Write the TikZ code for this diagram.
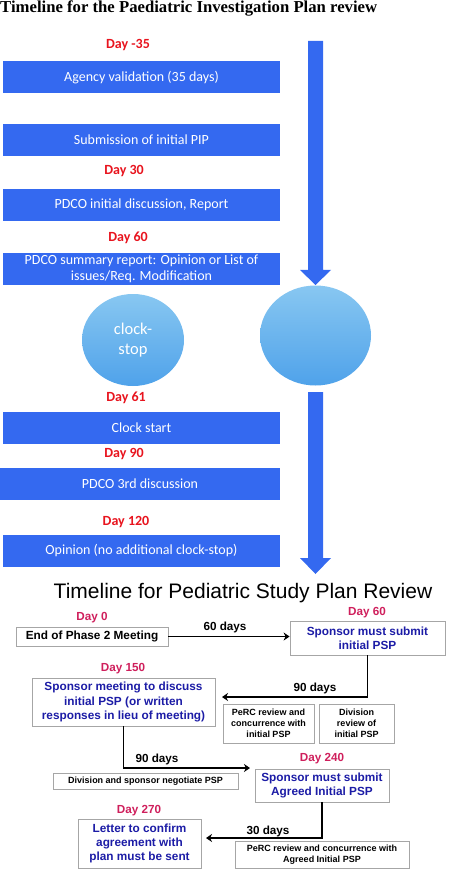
\documentclass[tikz,border=0pt]{standalone}
\usepackage{fontspec}
\setmainfont{Carlito}
\newfontfamily\arialf{Liberation Sans}
\newfontfamily\seriff{Liberation Serif}
\usetikzlibrary{arrows.meta,shapes.geometric}
\definecolor{boxblue}{HTML}{3469F0}
\definecolor{dayred}{HTML}{E8141E}
\definecolor{ellA}{HTML}{88C7F1}
\definecolor{ellB}{HTML}{4FA2EA}
\definecolor{navy}{HTML}{1C1CA6}
\definecolor{crimson}{HTML}{CF1F5C}
\begin{document}
\begin{tikzpicture}[x=1pt,y=-1pt,
  bluebox/.style={fill=boxblue, draw=none, minimum width=277pt, minimum height=32pt, inner sep=0pt, text=white, font=\fontsize{14}{16}\selectfont, align=center},
  daytop/.style={text=dayred, font=\fontsize{14}{16}\selectfont\bfseries},
  ellnode/.style={ellipse, draw=none, top color=ellA, bottom color=ellB, inner sep=0pt, text=white, font=\fontsize{16.5}{20}\selectfont, align=center},
  blockarrow/.style={fill=boxblue, draw=none},
  graybox/.style={draw=black!35, line width=0.8pt, fill=white, inner sep=0pt, align=center, font=\arialf\bfseries},
  bigtxt/.style={text=navy, font=\arialf\bfseries\fontsize{11.8}{14.3}\selectfont},
  smalltxt/.style={font=\arialf\bfseries\fontsize{9}{11}\selectfont},
  daybot/.style={text=crimson, font=\arialf\bfseries\fontsize{11.7}{13}\selectfont},
  dayslbl/.style={font=\arialf\bfseries\fontsize{11.7}{13}\selectfont},
  flow/.style={line width=1.6pt, -{Stealth[length=6pt,width=8pt]}}
]
\useasboundingbox (0,0) rectangle (474,882);

% ---------- top part ----------
\node[anchor=base west, font=\seriff\bfseries\fontsize{16.7}{18}\selectfont, inner sep=0pt] (title1) at (0,13) {Timeline for the Paediatric Investigation Plan review};

\node[daytop] (dm35) at (128,45) {Day -35};
\node[bluebox] (b1) at (141.5,77.5) {Agency validation (35 days)};
\node[bluebox] (b2) at (141.5,140) {Submission of initial PIP};
\node[daytop] (d30) at (124,171) {Day 30};
\node[bluebox] (b3) at (141.5,205) {PDCO initial discussion, Report};
\node[daytop] (d60) at (128,238) {Day 60};
\node[bluebox] (b4) at (141.5,269) {PDCO summary report: Opinion or List of\\issues/Req. Modification};

\node[ellnode, minimum width=102pt, minimum height=92pt] (cs) at (133,340) {clock-\\stop};
\node[ellnode, minimum width=111pt, minimum height=100pt] (ce) at (315.5,335.5) {};

\node[daytop] (d61) at (126,398) {Day 61};
\node[bluebox] (b5) at (141.5,428) {Clock start};
\node[daytop] (d90) at (124,454) {Day 90};
\node[bluebox, minimum width=280pt] (b6) at (140,483.5) {PDCO 3rd discussion};
\node[daytop] (d120) at (126,522) {Day 120};
\node[bluebox] (b7) at (141.5,550.5) {Opinion (no additional clock-stop)};

\fill[blockarrow] (308,41) -- (323,41) -- (323,270) -- (331,270) -- (315.5,285) -- (300,270) -- (308,270) -- cycle;
\fill[blockarrow] (308,392) -- (323,392) -- (323,558) -- (331,558) -- (315.5,574) -- (300,558) -- (308,558) -- cycle;

% ---------- bottom part ----------
\node[font=\arialf\fontsize{21}{23}\selectfont] (title2) at (243,593) {Timeline for Pediatric Study Plan Review};

\node[daybot] (day0) at (92,618) {Day 0};
\node[graybox, minimum width=152pt, minimum height=19pt, font=\arialf\bfseries\fontsize{11.8}{13}\selectfont] (endmeet) at (92,636.5) {End of Phase 2 Meeting};

\node[daybot] (day60) at (367,613) {Day 60};
\node[graybox, bigtxt, minimum width=155pt, minimum height=34pt] (sub1) at (367.5,638) {Sponsor must submit\\initial PSP};

\node[daybot] (day150) at (123,669) {Day 150};
\node[graybox, bigtxt, minimum width=183pt, minimum height=48pt] (meet) at (123.5,702) {Sponsor meeting to discuss\\initial PSP (or written\\responses in lieu of meeting)};

\node[graybox, smalltxt, minimum width=91pt, minimum height=39pt] (perc1) at (268.5,723.5) {PeRC review and\\concurrence with\\initial PSP};
\node[graybox, smalltxt, minimum width=75pt, minimum height=39pt] (div1) at (356.5,723.5) {Division\\review of\\initial PSP};

\node[graybox, smalltxt, minimum width=185pt, minimum height=16pt] (negot) at (145.5,781) {Division and sponsor negotiate PSP};

\node[daybot] (day240) at (322,759) {Day 240};
\node[graybox, bigtxt, minimum width=134pt, minimum height=33pt] (sub240) at (322,785.5) {Sponsor must submit\\Agreed Initial PSP};

\node[daybot] (day270) at (139,811) {Day 270};
\node[graybox, bigtxt, minimum width=123pt, minimum height=49pt] (letter) at (139.5,843.5) {Letter to confirm\\agreement with\\plan must be sent};

\node[graybox, smalltxt, minimum width=174pt, minimum height=27pt] (perc2) at (322,854.5) {PeRC review and concurrence with\\Agreed Initial PSP};

\coordinate (e1) at (222,697);
\coordinate (e2) at (250,768);
\coordinate (e3) at (206,838);

\draw[flow] (endmeet.east) -- (endmeet.east -| sub1.west);
\draw[flow] (sub1.south) |- (e1);
\draw[flow] (meet.south) |- (e2);
\draw[flow] (sub240.south) |- (e3);

\node[dayslbl] (l60) at (225,627) {60 days};
\node[dayslbl] (l90a) at (315,688) {90 days};
\node[dayslbl] (l90b) at (157,759) {90 days};
\node[dayslbl] (l30) at (268,831) {30 days};
\end{tikzpicture}
\end{document}
